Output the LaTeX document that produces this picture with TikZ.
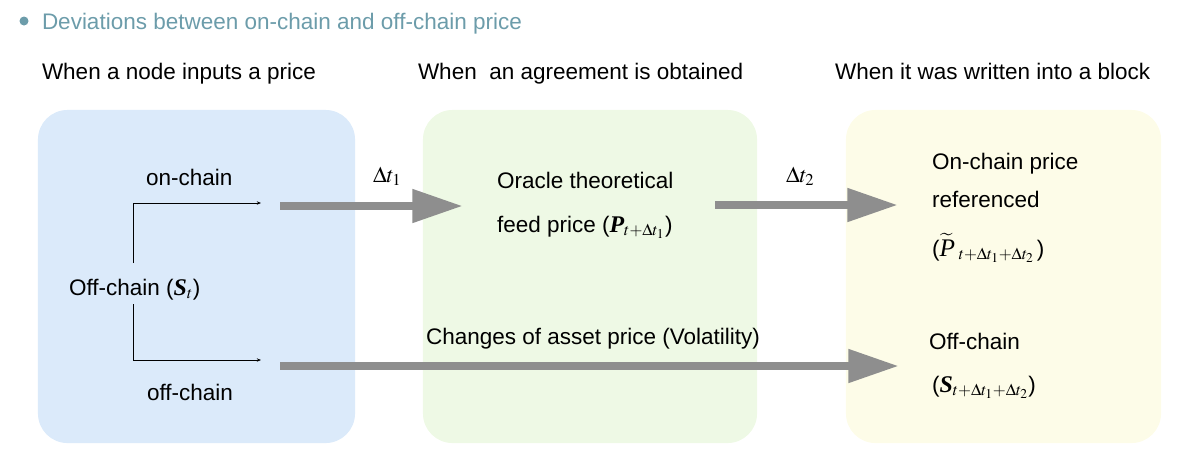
\documentclass[tikz,border=0pt]{standalone}
\usepackage{mathptmx}
\usepackage{fontspec}
\setmainfont{Liberation Sans}
\newfontfamily\tmsfont{Liberation Serif}
\newcommand{\bfP}{{\tmsfont\bfseries\itshape\fontsize{17}{19}\selectfont P}}
\newcommand{\bfS}{{\tmsfont\bfseries\itshape\fontsize{17}{19}\selectfont S}}
\newcommand{\itP}{\mbox{\tmsfont\itshape\fontsize{18}{19}\selectfont P}}
\usetikzlibrary{arrows.meta}
\definecolor{boxblue}{RGB}{219,234,250}
\definecolor{boxgreen}{RGB}{238,249,229}
\definecolor{boxyellow}{RGB}{253,252,232}
\definecolor{arrowgrey}{RGB}{142,142,142}
\definecolor{titleteal}{RGB}{108,156,170}
\begin{document}
\begin{tikzpicture}[x=0.025cm,y=-0.025cm,
  every node/.style={font=\fontsize{16}{19}\selectfont, inner sep=0pt, outer sep=0pt},
  panel/.style={rounded corners=21pt, draw=none},
  bigarrow/.style={draw=arrowgrey, line width=6.2pt, line cap=butt, -{Triangle[length=36pt,width=22.5pt]}},
  thinarrow/.style={draw=black, line width=0.6pt, -{Stealth[length=3pt,width=2.4pt]}},
  txt/.style={anchor=base west},
  mathlbl/.style={anchor=base west, font=\fontsize{16}{19}\selectfont}]
\useasboundingbox (0,0) rectangle (1200,470);
% panels
\node[panel, fill=boxblue, minimum width=7.925cm, minimum height=8.325cm] (pblue) at (196.5,276.5) {};
\node[panel, fill=boxgreen, minimum width=8.35cm, minimum height=8.325cm] (pgreen) at (590,276.5) {};
\node[panel, fill=boxyellow, minimum width=7.875cm, minimum height=8.325cm] (pyellow) at (1003.5,276.5) {};
% title
\node[circle, fill=titleteal, minimum size=6.4pt] (bullet) at (24,21) {};
\node[txt, text=titleteal] (title) at (42,29) {Deviations between on-chain and off-chain price};
% headings
\node[txt] (h1) at (42,79) {When a node inputs a price};
\node[txt] (h2) at (418,79) {When\ \ an agreement is obtained};
\node[txt] (h3) at (835,79) {When it was written into a block};
% left panel texts
\node[txt] (on) at (146,185) {on-chain};
\node[txt] (offS) at (69,295) {Off-chain (\bfS$_t$)};
\node[txt] (off) at (147,400) {off-chain};
% bracket
\coordinate (bt) at (133,263);
\coordinate (bte) at (261,203);
\coordinate (bb) at (133,304);
\coordinate (bbe) at (261,360);
\draw[thinarrow] (bt) |- (bte);
\draw[thinarrow] (bb) |- (bbe);
% middle texts
\node[txt] (or1) at (497,188) {Oracle theoretical};
\node[txt] (or2) at (497,232) {feed price (\bfP$_{t+\Delta t_1}$)};
\node[txt] (chg) at (426,344) {Changes of asset price (Volatility)};
% right texts
\node[txt] (r1) at (932,169) {On-chain price};
\node[txt] (r2) at (932,207) {referenced};
\node[txt] (r3) at (932,256) {($\widetilde{\itP}_{\;t+\Delta t_1+\Delta t_2}\,$)};
\node[txt] (r4) at (929,349) {Off-chain};
\node[txt] (r5) at (932,392) {(\bfS$_{t+\Delta t_1+\Delta t_2}$)};
% delta labels
\node[mathlbl] (d1) at (373,182) {$\Delta t_1$};
\node[mathlbl] (d2) at (786,182) {$\Delta t_2$};
% big arrows
\coordinate (a1s) at (280,206);
\coordinate (a1e) at (463,206);
\coordinate (a2s) at (715,205);
\coordinate (a2e) at (898,205);
\coordinate (a3s) at (280,366);
\coordinate (a3e) at (899,366);
\draw[bigarrow] (a1s) -- (a1e);
\draw[bigarrow] (a2s) -- (a2e);
\draw[bigarrow] (a3s) -- (a3e);
\end{tikzpicture}
\end{document}
